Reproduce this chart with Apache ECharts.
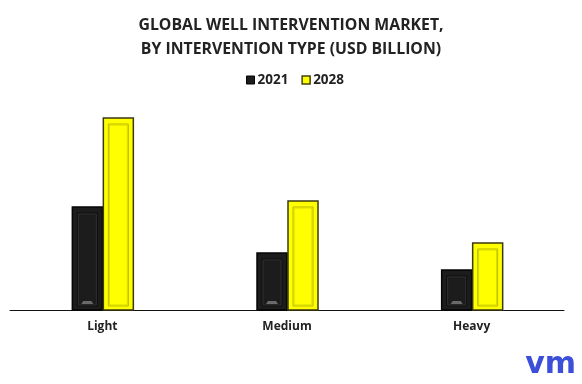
<!DOCTYPE html>
<html><head><meta charset="utf-8">
<script src="https://cdn.jsdelivr.net/npm/echarts@6/dist/echarts.min.js"></script>
<style>html,body{margin:0;padding:0;background:#fff}#c{width:582px;height:384px}</style>
</head><body><div id="c"></div>
<script>
var categories = ['Light', 'Medium', 'Heavy'];
var seriesNames = ['2021', '2028'];
var values2021 = [5.89, 3.26, 2.29];
var values2028 = [10.97, 6.23, 3.83];

var styles = [
  {fill: '#1c1c1c', border: '#050505', inner: '#2e2e2e', innerDark: '#0e0e0e', offset: -30},
  {fill: '#ffff00', border: '#3a3a10', inner: '#d6d600', innerDark: '#b8b800', offset: 1}
];

function makeRender(si) {
  return function (params, api) {
    var cat = api.value(0), val = api.value(1);
    var top = api.coord([cat, val]);
    var base = api.coord([cat, 0]);
    var st = styles[si];
    var w = 30;
    var x = top[0] + st.offset;
    var y = top[1];
    var h = base[1] - top[1];
    var children = [
      {type: 'rect', shape: {x: x, y: y, width: w, height: h},
       style: {fill: st.fill, stroke: st.border, lineWidth: 1.5}},
      {type: 'rect', shape: {x: x + 5, y: y + 6, width: w - 10, height: Math.max(h - 10, 0)},
       style: {fill: 'none', stroke: st.innerDark, lineWidth: 1}},
      {type: 'rect', shape: {x: x + 6, y: y + 7, width: w - 12, height: Math.max(h - 12, 0)},
       style: {fill: 'none', stroke: st.inner, lineWidth: 1}}
    ];
    if (si === 0) {
      children.push({type: 'polygon', shape: {points: [[x + 9, base[1] - 6], [x + 11, base[1] - 9], [x + 19, base[1] - 9], [x + 21, base[1] - 6]]},
        style: {fill: '#6a6a6a'}});
    }
    return {type: 'group', children: children};
  };
}

var chart = echarts.init(document.getElementById('c'), null, {renderer: 'canvas'});
chart.setOption({
  animation: false,
  backgroundColor: '#fff',
  title: {
    text: 'GLOBAL WELL INTERVENTION MARKET,\nBY INTERVENTION TYPE (USD BILLION)',
    left: 'center', top: 8,
    textStyle: {fontFamily: 'Open Sans', fontWeight: 'bold', fontSize: 15.8, color: '#222', lineHeight: 24}
  },
  legend: {
    top: 68, left: 241,
    itemWidth: 8, itemHeight: 8, itemGap: 13, icon: 'rect',
    textStyle: {fontFamily: 'Open Sans', fontWeight: 'bold', fontSize: 13.5, color: '#222', padding: [0, 0, 0, -2]},
    data: [
      {name: '2021', itemStyle: {color: '#1c1c1c', borderColor: '#000', borderWidth: 1}},
      {name: '2028', itemStyle: {color: '#ffff00', borderColor: '#444410', borderWidth: 1.5}}
    ]
  },
  grid: {left: 10, right: 18, top: 100, bottom: 74, containLabel: false},
  xAxis: {
    type: 'category', data: categories,
    axisLine: {lineStyle: {color: '#111', width: 1}},
    axisTick: {show: false},
    axisLabel: {fontFamily: 'Open Sans', fontWeight: 'bold', fontSize: 12, color: '#222', margin: 11}
  },
  yAxis: {type: 'value', min: 0, max: 12, show: false, splitLine: {show: false}},
  graphic: [{
    type: 'text', right: 6, bottom: 4,
    style: {text: 'vm', fontFamily: 'DejaVu Sans', fontSize: 30, fontWeight: 'bold', fill: '#3b4fd8'}
  }],
  series: [
    {name: seriesNames[0], type: 'custom', renderItem: makeRender(0), itemStyle: {color: '#1c1c1c'},
     encode: {x: 0, y: 1}, data: values2021.map(function (v, i) { return [i, v]; })},
    {name: seriesNames[1], type: 'custom', renderItem: makeRender(1), itemStyle: {color: '#ffff00'},
     encode: {x: 0, y: 1}, data: values2028.map(function (v, i) { return [i, v]; })}
  ]
});
</script>
</body></html>
